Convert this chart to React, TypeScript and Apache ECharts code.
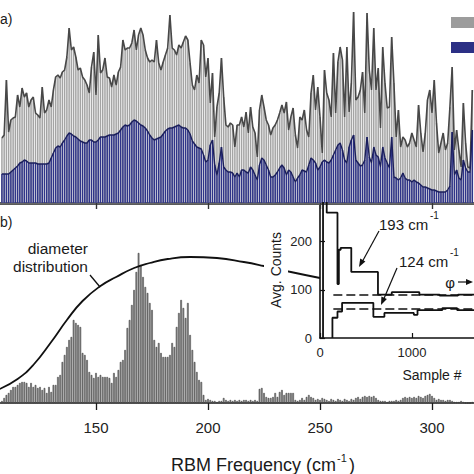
import React, { useEffect, useRef } from 'react';
import * as echarts from 'echarts';

const FONT = "'Liberation Sans', Arial, Helvetica, sans-serif";

// RBM frequency (cm^-1) of first bin; one bin per cm^-1
const FREQ_START = 108;

// (a) upper spectrum: all tubes (gray) and subset (blue), arbitrary counts
const grayCounts = [
  65, 68, 123, 71, 83, 85, 86, 108, 96, 115,
  106, 110, 96, 103, 106, 90, 88, 85, 116, 90,
  93, 103, 96, 113, 126, 128, 125, 131, 133, 146,
  175, 153, 156, 146, 133, 135, 126, 123, 118, 110,
  136, 151, 108, 168, 130, 133, 145, 126, 125, 116,
  128, 118, 131, 136, 163, 153, 155, 155, 160, 173,
  153, 168, 175, 168, 153, 145, 141, 143, 141, 163,
  140, 133, 141, 148, 155, 188, 155, 153, 148, 158,
  155, 161, 167, 163, 140, 118, 113, 128, 120, 163,
  158, 126, 145, 100, 130, 66, 96, 110, 145, 106,
  78, 76, 80, 78, 56, 78, 78, 86, 76, 91,
  70, 96, 76, 70, 46, 93, 108, 96, 83, 78,
  68, 75, 78, 83, 90, 98, 90, 101, 73, 86,
  95, 68, 55, 86, 83, 93, 73, 66, 110, 128,
  93, 116, 86, 50, 133, 110, 103, 86, 150, 90,
  141, 156, 143, 86, 156, 91, 120, 191, 103, 106,
  113, 131, 90, 190, 133, 113, 175, 113, 135, 75,
  156, 120, 95, 96, 166, 120, 66, 93, 56, 66,
  63, 56, 60, 70, 63, 56, 98, 70, 51, 70,
  103, 113, 90, 123, 80, 50, 60, 70, 53, 60,
  96, 136, 53, 73, 53, 36, 100, 60, 36, 35,
  113,
];

const blueCounts = [
  29, 29, 29, 29, 31, 33, 35, 37, 40, 41,
  43, 42, 40, 40, 40, 40, 39, 39, 39, 39,
  39, 40, 45, 50, 55, 57, 56, 60, 63, 67,
  70, 69, 67, 66, 64, 62, 61, 60, 60, 63,
  63, 61, 61, 63, 66, 66, 66, 67, 68, 68,
  68, 69, 70, 73, 76, 78, 77, 78, 81, 83,
  82, 80, 78, 77, 75, 72, 68, 65, 63, 64,
  65, 66, 69, 72, 74, 75, 75, 76, 77, 78,
  76, 75, 75, 73, 69, 62, 59, 56, 55, 54,
  48, 41, 43, 58, 63, 38, 28, 40, 56, 36,
  33, 31, 31, 30, 26, 30, 26, 33, 33, 31,
  30, 36, 33, 28, 23, 38, 45, 43, 38, 33,
  26, 26, 28, 31, 35, 38, 35, 28, 33, 31,
  26, 21, 25, 28, 33, 32, 31, 38, 45, 43,
  40, 33, 36, 41, 43, 41, 40, 43, 48, 53,
  58, 60, 53, 43, 40, 56, 63, 68, 43, 40,
  37, 38, 43, 66, 46, 40, 56, 48, 46, 36,
  56, 45, 40, 35, 66, 26, 25, 23, 25, 30,
  25, 23, 23, 21, 23, 21, 20, 18, 16, 16,
  15, 14, 13, 13, 12, 11, 11, 11, 11, 13,
  17, 71, 28, 33, 25, 23, 43, 35, 31, 31,
  73,
];

// (b) RBM histogram
const histCounts = [
  2, 5, 8, 10, 13, 16, 16, 18, 20, 21,
  21, 20, 16, 20, 16, 18, 15, 16, 13, 15,
  10, 16, 11, 18, 18, 26, 28, 41, 48, 56,
  63, 66, 83, 80, 78, 76, 50, 48, 43, 31,
  28, 25, 30, 26, 28, 26, 26, 26, 25, 20,
  30, 26, 33, 41, 43, 53, 75, 83, 98, 113,
  131, 150, 138, 126, 116, 110, 100, 93, 63, 56,
  60, 50, 46, 46, 46, 48, 60, 56, 76, 90,
  103, 95, 85, 100, 68, 53, 41, 31, 23, 21,
  8, 3, 4, 3, 2, 2, 1, 2, 2, 5,
  3, 2, 3, 2, 3, 2, 3, 2, 3, 3,
  2, 3, 2, 3, 2, 14, 15, 10, 6, 5,
  5, 6, 10, 6, 11, 13, 8, 10, 10, 10,
  10, 3, 2, 3, 5, 3, 6, 8, 6, 5,
  3, 4, 3, 5, 4, 3, 2, 4, 3, 2,
  4, 3, 2, 4, 3, 2, 4, 3, 5, 6,
  4, 6, 7, 6, 7, 6, 7, 5, 3, 2,
  2, 2, 1, 2, 2, 2, 3, 2, 3, 5,
  6, 5, 6, 5, 6, 5, 7, 6, 5, 7,
  8, 9, 7, 5, 3, 4, 3, 3, 2, 3,
  3, 2, 1, 1, 1, 2, 1, 0, 0, 0,
  1,
];

// diameter distribution curve
const diamFreq = [107, 115, 122, 130, 137, 144, 152, 159, 167, 174, 182, 192, 204, 216, 225, 237, 250];
const diamValues = [14, 24, 38, 61, 83, 102, 117, 126, 135, 140, 144, 146, 145, 141, 137, 131, 125];

// inset: running averages vs sample #
const sample193 = [33, 33, 73, 190, 205, 225, 340, 630, 780, 1080, 1300, 1500, 2000];
const avg193 = [0, 300, 260, 112, 183, 187, 137, 90, 95, 90, 88, 90, 90];
const sample124 = [135, 135, 190, 240, 580, 700, 1020, 1060, 1330, 1490, 2000];
const avg124 = [0, 42, 55, 73, 44, 52, 48, 58, 62, 58, 58];
const mean193 = 89;
const mean124 = 60;
const meanSampleRange = [145, 2000];

const freqTicks = { min: 100, max: 325, interval: 50 };

function pairs(values: number[]) {
  return values.map((v, i) => [FREQ_START + i, v]);
}

export default function App() {
  const ref = useRef<HTMLDivElement>(null);
  useEffect(() => {
    if (!ref.current) return;
    const chart = echarts.init(ref.current, null, { renderer: 'svg' });
    const grayData = pairs(grayCounts);
    const blueData = pairs(blueCounts);
    const histData = pairs(histCounts);
    const diamData = diamFreq.map((f, i) => [f, diamValues[i]]);
    const up = sample193.map((s, i) => [s, avg193[i]]);
    const lo = sample124.map((s, i) => [s, avg124[i]]);
    const textBase = { fontFamily: FONT, fill: '#1a1a1a' };
    const plain = (v: number) => String(v);

    chart.setOption({
      animation: false,
      backgroundColor: '#fff',
      grid: [
        { left: -16, top: 1, width: 504, height: 202, outerBoundsMode: 'none', containLabel: false },
        { left: -16, top: 203, width: 504, height: 200, outerBoundsMode: 'none', containLabel: false },
        { left: 320, top: 203, width: 184, height: 135, outerBoundsMode: 'none', containLabel: false },
      ],
      xAxis: [
        {
          gridIndex: 0, type: 'value', position: 'top', ...freqTicks,
          axisLine: { show: true, lineStyle: { color: '#5a5a5a', width: 3 } },
          axisTick: { show: true, inside: true, length: 6, lineStyle: { color: '#444', width: 1.2 } },
          axisLabel: { show: false }, splitLine: { show: false },
        },
        {
          gridIndex: 1, type: 'value', position: 'bottom', ...freqTicks,
          axisLine: { show: true, lineStyle: { color: '#1a1a1a', width: 1.5 } },
          axisTick: { show: true, inside: false, length: 7, lineStyle: { color: '#1a1a1a', width: 1.3 } },
          axisLabel: { show: true, color: '#222', fontSize: 15, fontFamily: FONT, margin: 17, showMinLabel: false, showMaxLabel: false, formatter: plain },
          splitLine: { show: false },
        },
        {
          gridIndex: 1, type: 'value', position: 'top', ...freqTicks,
          axisLine: { show: true, lineStyle: { color: '#666', width: 1 } },
          axisTick: { show: true, inside: true, length: 6, lineStyle: { color: '#333', width: 1.2 } },
          axisLabel: { show: false }, splitLine: { show: false },
        },
        {
          gridIndex: 2, type: 'value', min: 0, max: 2000, interval: 1000,
          axisLine: { show: true, lineStyle: { color: '#111', width: 1.6 } },
          axisTick: { show: true, inside: true, length: 5, lineStyle: { color: '#111', width: 1.2 } },
          axisLabel: { show: true, color: '#222', fontSize: 13, fontFamily: FONT, margin: 8, showMaxLabel: false, formatter: plain },
          splitLine: { show: false },
        },
      ],
      yAxis: [
        { gridIndex: 0, type: 'value', min: 0, max: 202, show: false },
        { gridIndex: 1, type: 'value', min: 0, max: 200, show: false },
        {
          gridIndex: 2, type: 'value', min: 0, max: 280, interval: 100,
          axisLine: { show: true, lineStyle: { color: '#111', width: 1.6 } },
          axisTick: { show: true, inside: true, length: 5, lineStyle: { color: '#111', width: 1.2 } },
          axisLabel: { show: true, color: '#222', fontSize: 13, fontFamily: FONT, margin: 8, showMaxLabel: false, formatter: plain },
          splitLine: { show: false },
        },
      ],
      series: [
        {
          type: 'bar', xAxisIndex: 0, yAxisIndex: 0, data: grayData, barWidth: 1.5, barGap: '-100%',
          itemStyle: { color: '#a4a4a4' },
        },
        {
          type: 'bar', xAxisIndex: 0, yAxisIndex: 0, data: blueData, barWidth: 1.5, barGap: '-100%',
          itemStyle: { color: '#2f3489' },
        },
        {
          type: 'line', xAxisIndex: 0, yAxisIndex: 0, data: grayData, showSymbol: false,
          lineStyle: { color: '#484848', width: 1.6 },
        },
        {
          type: 'line', xAxisIndex: 0, yAxisIndex: 0, data: blueData, showSymbol: false,
          lineStyle: { color: '#1b1f5c', width: 1.4 },
        },
        {
          type: 'bar', xAxisIndex: 1, yAxisIndex: 1, data: histData, barWidth: 1.6,
          itemStyle: { color: '#939393', borderColor: '#2a2a2a', borderWidth: 0.5 },
        },
        {
          type: 'line', xAxisIndex: 1, yAxisIndex: 1, data: diamData, smooth: true, showSymbol: false,
          lineStyle: { color: '#111', width: 1.8 },
        },
        {
          type: 'line', xAxisIndex: 3, yAxisIndex: 2, data: up, step: 'end', showSymbol: false,
          lineStyle: { color: '#111', width: 1.8 },
        },
        {
          type: 'line', xAxisIndex: 3, yAxisIndex: 2, data: lo, step: 'end', showSymbol: false,
          lineStyle: { color: '#111', width: 1.8 },
        },
        {
          type: 'line', xAxisIndex: 3, yAxisIndex: 2, showSymbol: false,
          data: [[meanSampleRange[0], mean193], [meanSampleRange[1], mean193]],
          lineStyle: { color: '#111', width: 1.5, type: [9, 4] },
        },
        {
          type: 'line', xAxisIndex: 3, yAxisIndex: 2, showSymbol: false,
          data: [[meanSampleRange[0], mean124], [meanSampleRange[1], mean124]],
          lineStyle: { color: '#111', width: 1.5, type: [9, 4] },
        },
      ],
      graphic: [
        { type: 'text', z: 100, style: { ...textBase, text: 'a)', x: 0, y: 19, fontSize: 14, align: 'left', verticalAlign: 'middle' } },
        { type: 'text', z: 100, style: { ...textBase, text: 'b)', x: 0, y: 222, fontSize: 14, align: 'left', verticalAlign: 'middle' } },
        { type: 'rect', z: 100, shape: { x: 451, y: 17, width: 30, height: 11 }, style: { fill: '#9c9c9c' } },
        { type: 'rect', z: 100, shape: { x: 451, y: 42, width: 30, height: 11 }, style: { fill: '#2c3085' } },
        { type: 'text', z: 100, style: { ...textBase, text: 'diameter', x: 88, y: 248, fontSize: 15.5, align: 'right', verticalAlign: 'middle' } },
        { type: 'text', z: 100, style: { ...textBase, text: 'distribution', x: 88, y: 266, fontSize: 15.5, align: 'right', verticalAlign: 'middle' } },
        { type: 'line', z: 100, shape: { x1: 90, y1: 275, x2: 100, y2: 287 }, style: { stroke: '#111', lineWidth: 1.3 } },
        {
          type: 'text', z: 100, x: 276, y: 270, rotation: Math.PI / 2,
          style: { ...textBase, text: 'Avg. Counts', fontSize: 14, align: 'center', verticalAlign: 'middle', backgroundColor: '#fff', padding: [5, 2, 5, 2] },
        },
        { type: 'text', z: 100, style: { ...textBase, text: 'Sample #', x: 432, y: 375, fontSize: 14, align: 'center', verticalAlign: 'middle' } },
        { type: 'text', z: 100, style: { ...textBase, text: '193 cm', x: 379, y: 224, fontSize: 15, align: 'left', verticalAlign: 'middle' } },
        { type: 'text', z: 100, style: { ...textBase, text: '-1', x: 430, y: 215, fontSize: 10, align: 'left', verticalAlign: 'middle' } },
        { type: 'line', z: 100, shape: { x1: 379, y1: 231, x2: 361, y2: 264 }, style: { stroke: '#111', lineWidth: 1.2 } },
        { type: 'polygon', z: 100, shape: { points: [[359, 267], [365.4, 261.4], [360.2, 258.6]] }, style: { fill: '#111' } },
        { type: 'text', z: 100, style: { ...textBase, text: '124 cm', x: 399, y: 261, fontSize: 15, align: 'left', verticalAlign: 'middle' } },
        { type: 'text', z: 100, style: { ...textBase, text: '-1', x: 450, y: 252, fontSize: 10, align: 'left', verticalAlign: 'middle' } },
        { type: 'line', z: 100, shape: { x1: 397, y1: 268, x2: 382.5, y2: 302 }, style: { stroke: '#111', lineWidth: 1.2 } },
        { type: 'polygon', z: 100, shape: { points: [[381, 305], [386.9, 298.9], [381.4, 296.5]] }, style: { fill: '#111' } },
        { type: 'text', z: 100, style: { ...textBase, text: 'φ', x: 450, y: 282, fontSize: 15, align: 'center', verticalAlign: 'middle' } },
        { type: 'line', z: 100, shape: { x1: 458, y1: 282, x2: 468, y2: 282 }, style: { stroke: '#111', lineWidth: 1.2 } },
        { type: 'polygon', z: 100, shape: { points: [[473, 282], [466, 279], [466, 285]] }, style: { fill: '#111' } },
        { type: 'text', z: 100, style: { ...textBase, text: 'RBM Frequency (cm', x: 336, y: 465, fontSize: 18, align: 'right', verticalAlign: 'middle' } },
        { type: 'text', z: 100, style: { ...textBase, text: '-1', x: 337, y: 458, fontSize: 11, align: 'left', verticalAlign: 'middle' } },
        { type: 'text', z: 100, style: { ...textBase, text: ')', x: 349, y: 465, fontSize: 18, align: 'left', verticalAlign: 'middle' } },
      ],
    });
    return () => chart.dispose();
  }, []);
  return <div ref={ref} style={{ position: 'fixed', left: 0, top: 0, width: 474, height: 474 }} />;
}
